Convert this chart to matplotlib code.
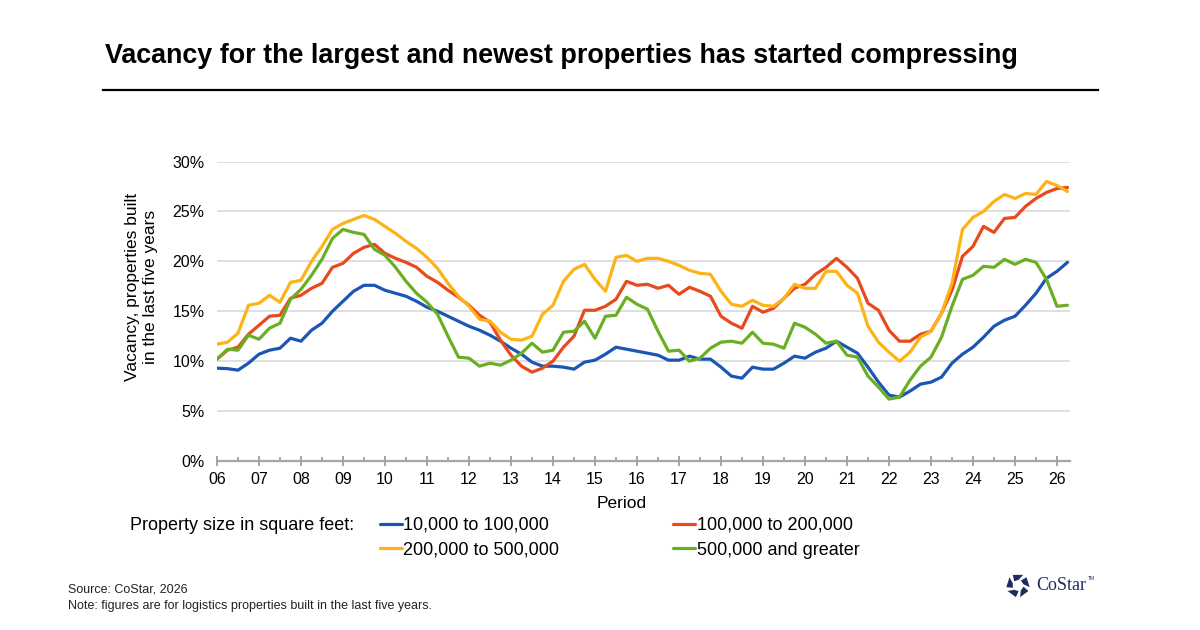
import matplotlib
matplotlib.use("Agg")
import matplotlib.pyplot as plt
from matplotlib.lines import Line2D
from matplotlib.patches import Polygon
import numpy as np
import pandas as pd

plt.rcParams['font.family'] = ['Liberation Sans', 'DejaVu Sans']

# ---------------- data (quarterly, 2006Q1 - 2026Q2) ----------------
start_period = "2006Q1"
end_period = "2026Q2"

size_10k_100k = [
    9.3, 9.25, 9.1, 9.8,
    10.7, 11.1, 11.3, 12.3,
    12.0, 13.1, 13.8, 15.0,
    16.0, 17.0, 17.6, 17.6,
    17.1, 16.8, 16.5, 16.0,
    15.4, 15.0, 14.5, 14.0,
    13.5, 13.1, 12.6, 12.0,
    11.3, 10.7, 9.9, 9.5,
    9.5, 9.4, 9.2, 9.9,
    10.1, 10.7, 11.4, 11.2,
    11.0, 10.8, 10.6, 10.1,
    10.1, 10.5, 10.2, 10.2,
    9.4, 8.5, 8.3, 9.4,
    9.2, 9.2, 9.8, 10.5,
    10.3, 10.9, 11.3, 12.0,
    11.4, 10.8, 9.4, 7.9,
    6.6, 6.4, 7.0, 7.7,
    7.9, 8.4, 9.8, 10.7,
    11.4, 12.4, 13.5, 14.1,
    14.5, 15.6, 16.8, 18.3,
    19.0, 19.9,
]

size_100k_200k = [
    10.2, 11.1, 11.4, 12.7,
    13.6, 14.5, 14.6, 16.3,
    16.6, 17.3, 17.8, 19.4,
    19.8, 20.8, 21.4, 21.7,
    20.8, 20.3, 19.9, 19.4,
    18.5, 17.9, 17.1, 16.4,
    15.6, 14.6, 13.9, 12.1,
    10.6, 9.5, 8.9, 9.3,
    10.0, 11.4, 12.5, 15.1,
    15.1, 15.5, 16.2, 18.0,
    17.6, 17.7, 17.3, 17.6,
    16.7, 17.4, 17.0, 16.5,
    14.5, 13.8, 13.3, 15.5,
    14.9, 15.3, 16.3, 17.3,
    17.7, 18.7, 19.4, 20.3,
    19.4, 18.3, 15.8, 15.1,
    13.1, 12.0, 12.0, 12.7,
    13.0, 14.8, 17.1, 20.5,
    21.5, 23.5, 22.9, 24.3,
    24.4, 25.5, 26.3, 26.9,
    27.3, 27.4,
]

size_200k_500k = [
    11.7, 11.9, 12.8, 15.6,
    15.8, 16.6, 15.9, 17.9,
    18.1, 20.0, 21.5, 23.2,
    23.8, 24.2, 24.6, 24.2,
    23.5, 22.8, 22.0, 21.3,
    20.4, 19.3, 17.8, 16.5,
    15.5, 14.2, 14.0, 12.9,
    12.2, 12.1, 12.5, 14.7,
    15.6, 18.0, 19.2, 19.7,
    18.2, 17.0, 20.4, 20.6,
    20.0, 20.3, 20.3, 20.0,
    19.6, 19.1, 18.8, 18.7,
    17.0, 15.7, 15.5, 16.1,
    15.6, 15.5, 16.3, 17.7,
    17.3, 17.3, 19.0, 19.0,
    17.6, 16.8, 13.5, 11.9,
    10.9, 10.0, 10.9, 12.4,
    13.0, 14.8, 17.8, 23.2,
    24.4, 25.0, 26.0, 26.7,
    26.3, 26.8, 26.7, 28.0,
    27.6, 27.0,
]

size_500k_plus = [
    10.2, 11.2, 11.1, 12.6,
    12.2, 13.3, 13.8, 16.2,
    17.2, 18.6, 20.2, 22.3,
    23.2, 22.9, 22.7, 21.2,
    20.6, 19.4, 18.0, 16.8,
    15.9, 14.7, 12.5, 10.4,
    10.3, 9.5, 9.8, 9.6,
    10.1, 10.8, 11.8, 10.9,
    11.1, 12.9, 13.0, 14.0,
    12.3, 14.5, 14.6, 16.4,
    15.7, 15.2, 13.0, 11.0,
    11.1, 10.0, 10.3, 11.3,
    11.9, 12.0, 11.8, 12.9,
    11.8, 11.7, 11.3, 13.8,
    13.4, 12.7, 11.8, 12.0,
    10.6, 10.4, 8.5, 7.4,
    6.2, 6.4, 8.1, 9.5,
    10.4, 12.4, 15.5, 18.2,
    18.6, 19.5, 19.4, 20.2,
    19.7, 20.2, 19.9, 18.2,
    15.5, 15.6,
]

series_labels = ["10,000 to 100,000", "100,000 to 200,000",
                 "200,000 to 500,000", "500,000 and greater"]
series_colors = ["#1C55B3", "#E8491D", "#FDB316", "#6AAF23"]

year_ticks = list(range(2006, 2027))
year_tick_labels = [f"{y % 100:02d}" for y in year_ticks]
y_ticks = [0, 5, 10, 15, 20, 25, 30]
y_tick_labels = [f"{v}%" for v in y_ticks]

title = "Vacancy for the largest and newest properties has started compressing"
y_label = "Vacancy, properties built\nin the last five years"
x_label = "Period"
legend_title = "Property size in square feet:"
source_text = "Source: CoStar, 2026"
note_text = "Note: figures are for logistics properties built in the last five years."

# ---------------- figure ----------------
W, H = 1200, 630
fig = plt.figure(figsize=(W / 100, H / 100), dpi=100)
fig.patch.set_facecolor("white")

def fx(px):
    return px / W

def fy(py):
    return 1 - py / H

ax_left, ax_right, ax_top, ax_bottom = 217, 1070, 161.5, 461
ax = fig.add_axes([fx(ax_left), fy(ax_bottom), fx(ax_right - ax_left),
                   (ax_bottom - ax_top) / H])

periods = pd.period_range(start_period, end_period, freq="Q")
x = periods.year + (periods.quarter - 1) / 4.0

series = [size_10k_100k, size_100k_200k, size_200k_500k, size_500k_plus]
handles = []
for vals, lab, col in zip(series, series_labels, series_colors):
    h, = ax.plot(x, vals, color=col, lw=2.3, label=lab,
                 solid_joinstyle="round", solid_capstyle="round", zorder=3)
    handles.append(h)

ax.set_xlim(2006, 2026.31)
ax.set_ylim(0, 30)
ax.set_xticks(year_ticks)
ax.set_xticklabels(year_tick_labels)
ax.set_xticks([y + 0.5 for y in year_ticks[:-1]], minor=True)
ax.set_yticks(y_ticks)
ax.set_yticklabels(y_tick_labels)

for s in ["top", "right", "left"]:
    ax.spines[s].set_visible(False)
ax.spines["bottom"].set_color("#A6A6A6")
ax.spines["bottom"].set_linewidth(1.6)
ax.spines["bottom"].set_zorder(4)

ax.tick_params(axis="x", which="major", direction="inout", length=6.5,
               width=1.4, color="#A6A6A6", labelsize=11.5, pad=5,
               labelcolor="#000000")
ax.tick_params(axis="x", which="minor", direction="in", length=2.8,
               width=1.4, color="#A6A6A6")
ax.tick_params(axis="y", which="major", length=0, pad=9, labelsize=11.5,
               labelcolor="#000000")

ax.yaxis.grid(True, color="#D9D9D9", lw=1.2, zorder=0)
ax.set_axisbelow(True)

# axis labels
fig.text(fx(142), fy(287), y_label, rotation=90, ha="center", va="center",
         fontsize=12.5, multialignment="center", linespacing=1.25)
fig.text(fx(622), fy(503), x_label, ha="center", va="center", fontsize=12.5)

# title + rule
fig.text(fx(105), fy(63), title, ha="left", va="baseline", fontsize=19.4,
         fontweight="bold")
fig.add_artist(Line2D([fx(103), fx(1098)], [fy(90), fy(90)], color="black",
                      lw=1.6))

# legend
fig.text(fx(130), fy(525), legend_title, ha="left", va="center", fontsize=13)
order = [0, 2, 1, 3]
leg = fig.legend([handles[i] for i in order], [series_labels[i] for i in order],
                 ncol=2, loc="upper left",
                 bbox_to_anchor=(fx(380), fy(517)), bbox_transform=fig.transFigure,
                 frameon=False, fontsize=13, handlelength=1.22,
                 handletextpad=0.08, columnspacing=6.3, labelspacing=0.42,
                 borderpad=0, borderaxespad=0)
for lh in leg.get_lines():
    lh.set_linewidth(2.3)

# footer
foot_family = ["Liberation Sans Narrow", "Liberation Sans", "DejaVu Sans"]
fig.text(fx(68), fy(589), source_text, ha="left", va="center", fontsize=9,
         family=foot_family, color="#222222")
fig.text(fx(68), fy(606), note_text, ha="left", va="center", fontsize=9,
         family=foot_family, color="#222222")

# logo
navy = "#1E2D5E"
lax = fig.add_axes([fx(1005), fy(598.5), fx(26), 26 / H])
lax.set_xlim(-1.1, 1.1)
lax.set_ylim(-1.1, 1.1)
lax.set_aspect("equal")
lax.axis("off")
for k in range(5):
    th = np.deg2rad(90 + 72 * k)
    pts = []
    for r, dth in [(1.0, -26), (1.0, 26), (0.48, 42), (0.48, -6)]:
        a = th + np.deg2rad(dth)
        pts.append((r * np.cos(a), r * np.sin(a)))
    lax.add_patch(Polygon(pts, closed=True, color=navy, lw=0))
fig.text(fx(1036), fy(585), "CoStar", ha="left", va="center", fontsize=13,
         family=["Liberation Serif", "DejaVu Serif"], color=navy)
fig.text(fx(1088), fy(579), "TM", ha="left", va="center", fontsize=3.5,
         color=navy)

fig.savefig("out.png", dpi=100, facecolor="white")
